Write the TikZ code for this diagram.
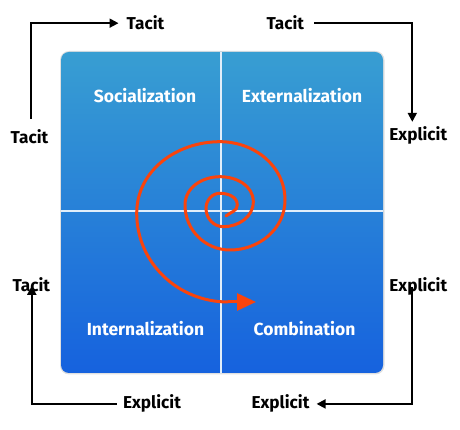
\documentclass[tikz,border=0pt]{standalone}
\usepackage{fontspec}
\setmainfont{Fira Sans}
\usetikzlibrary{arrows.meta,shadows}
\definecolor{boxtop}{RGB}{56,158,210}
\definecolor{boxbot}{RGB}{22,98,222}
\definecolor{spiral}{RGB}{250,68,12}
\definecolor{divider}{RGB}{225,238,250}
\tikzset{
  lbl/.style={font=\fontsize{17.2}{19}\selectfont\bfseries, text=black, inner sep=0pt, anchor=base},
  quad/.style={font=\fontsize{17.5}{19}\selectfont\bfseries, text=white, inner sep=0pt, anchor=base},
  arr/.style={line width=1.9pt, -{Triangle[length=9pt,width=9pt]}},
  spir/.style={line width=3pt, draw=spiral, line cap=round}
}
\begin{document}
\begin{tikzpicture}[x=1pt,y=1pt]
\useasboundingbox (0,0) rectangle (460,430);
% box with soft shadow
\fill[black!12, rounded corners=9pt] (60,55.5) rectangle (384.5,379);
\shade[top color=boxtop, bottom color=boxbot, rounded corners=8pt] (61,57) rectangle (383,378);
\draw[divider, line width=1.6pt] (221,57) -- (221,378);
\draw[divider, line width=1.6pt] (61,219) -- (383,219);
% quadrant labels
\node[quad] (soc) at (145,327.5) {Socialization};
\node[quad] (ext) at (302,327.5) {Externalization};
\node[quad] (int) at (145.5,94) {Internalization};
\node[quad] (com) at (304.5,94) {Combination};
% spiral
\coordinate (S) at (226,214);
\coordinate (R1) at (237.3,225);
\coordinate (T1) at (220,236.7);
\coordinate (L1) at (206,221.7);
\coordinate (B1) at (223.3,203.3);
\coordinate (R2) at (253.3,228.3);
\coordinate (T2) at (220,253.3);
\coordinate (L2) at (185,225);
\coordinate (B2) at (230,180);
\coordinate (R3) at (285,230);
\coordinate (T3) at (220,288.3);
\coordinate (L3) at (136.7,216.7);
\coordinate (B3) at (228,128);
\coordinate (E) at (256,128);
\draw[spir] (S) to[out=40,in=270] (R1) to[out=90,in=0] (T1) to[out=180,in=90] (L1)
  to[out=270,in=180] (B1) to[out=0,in=270] (R2) to[out=90,in=0] (T2)
  to[out=180,in=90] (L2) to[out=270,in=180] (B2) to[out=0,in=270] (R3)
  to[out=90,in=0] (T3) to[out=180,in=90] (L3) to[out=270,in=180] (B3);
\draw[line width=3pt, draw=spiral, -{Triangle[length=19pt,width=17pt]}] (B3) -- (E);
% outer labels
\node[lbl] (ttl) at (145.5,400) {Tacit};
\node[lbl] (ttr) at (285.3,400) {Tacit};
\node[lbl] (ltac) at (29.5,286) {Tacit};
\node[lbl] (rexa) at (418.3,289) {Explicit};
\node[lbl] (ltacb) at (31.3,138) {Tacit};
\node[lbl] (rexb) at (418.3,138) {Explicit};
\node[lbl] (bexa) at (152,21) {Explicit};
\node[lbl] (bexb) at (280.5,21) {Explicit};
% arrows
\draw[arr, shorten <=11pt, shorten >=8pt] ([xshift=1.5pt]ltac.north) |- (ttl.west);
\draw[arr, shorten <=10pt, shorten >=5pt] (ttr.east) -| ([xshift=-6pt]rexa.north);
\draw[arr, shorten <=9pt, shorten >=7pt] ([xshift=-6pt]rexb.north) |- (bexb.east);
\draw[arr, shorten <=6pt, shorten >=8pt] (bexa.west) -| ([xshift=0.5pt]ltacb.north);
\end{tikzpicture}
\end{document}
